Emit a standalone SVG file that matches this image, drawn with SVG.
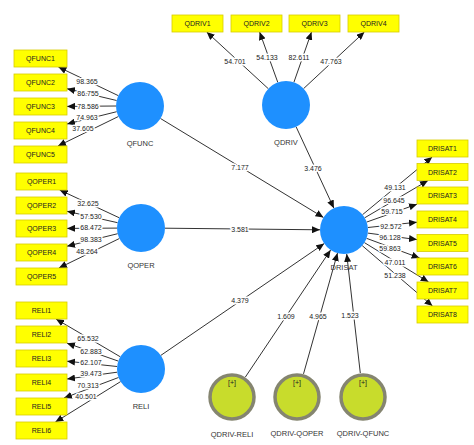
<svg xmlns="http://www.w3.org/2000/svg" width="474" height="445" viewBox="0 0 474 445">
<defs>
<marker id="ah" markerUnits="userSpaceOnUse" markerWidth="8" markerHeight="7" refX="8" refY="3.5" orient="auto">
<path d="M0,0 L8,3.5 L0,7 z" fill="#111"/>
</marker>
<style>
.ln{stroke:#333;stroke-width:1;fill:none;marker-end:url(#ah)}
.box{fill:#ffff00;stroke:#d8cc00;stroke-width:0.8}
.bt{font-family:"Liberation Sans",Arial,sans-serif;font-size:7px;fill:#222;text-anchor:middle}
.lat{fill:#1e90ff}
.mod{fill:#c8dc2c;stroke:#858570;stroke-width:3.5}
.lt{font-family:"Liberation Sans",Arial,sans-serif;font-size:7.5px;fill:#333;text-anchor:middle}
.val{font-family:"Liberation Sans",Arial,sans-serif;font-size:7px;fill:#222;text-anchor:middle;stroke:#fff;stroke-width:3;paint-order:stroke;stroke-linejoin:round}
</style>
</defs>
<rect width="474" height="445" fill="#fff"/>
<g id="connectors">
<line class="ln" x1="160.5" y1="118.5" x2="323.5" y2="217.5"/>
<line class="ln" x1="165" y1="228.2" x2="320" y2="229.8"/>
<line class="ln" x1="296.1" y1="126.8" x2="333.9" y2="208.2"/>
<line class="ln" x1="160.8" y1="355.4" x2="324.2" y2="243.6"/>
<line class="ln" x1="245.4" y1="377" x2="330.6" y2="250"/>
<line class="ln" x1="303.5" y1="373.9" x2="337.5" y2="253.1"/>
<line class="ln" x1="360.3" y1="373.1" x2="346.7" y2="253.9"/>
<line class="ln" x1="118.4" y1="95.7" x2="58.4" y2="67"/>
<line class="ln" x1="116.6" y1="100.5" x2="67" y2="88.7"/>
<line class="ln" x1="116" y1="106" x2="67" y2="106.4"/>
<line class="ln" x1="116.7" y1="111.7" x2="67" y2="124"/>
<line class="ln" x1="118.4" y1="116.5" x2="58" y2="146"/>
<line class="ln" x1="119.3" y1="217.8" x2="59.7" y2="190"/>
<line class="ln" x1="117.6" y1="222.7" x2="67" y2="211.3"/>
<line class="ln" x1="117" y1="228.1" x2="67" y2="228.4"/>
<line class="ln" x1="117.7" y1="233.7" x2="67" y2="246.2"/>
<line class="ln" x1="119.4" y1="238.5" x2="58.9" y2="268"/>
<line class="ln" x1="120.3" y1="356.8" x2="56" y2="319"/>
<line class="ln" x1="118.3" y1="361.1" x2="67" y2="343.2"/>
<line class="ln" x1="117.1" y1="366.5" x2="67" y2="361.2"/>
<line class="ln" x1="117.2" y1="372.2" x2="67" y2="379"/>
<line class="ln" x1="118.5" y1="377.5" x2="64" y2="398"/>
<line class="ln" x1="120.6" y1="381.6" x2="55.4" y2="422"/>
<line class="ln" x1="268.3" y1="88.7" x2="206.7" y2="32"/>
<line class="ln" x1="277.8" y1="82.4" x2="259.6" y2="32"/>
<line class="ln" x1="293.9" y1="82.3" x2="311.5" y2="32"/>
<line class="ln" x1="303.6" y1="88.6" x2="364.4" y2="32"/>
<line class="ln" x1="362.5" y1="214.7" x2="432.2" y2="157"/>
<line class="ln" x1="364.7" y1="217.8" x2="428" y2="180.5"/>
<line class="ln" x1="366.6" y1="222.1" x2="417" y2="204.2"/>
<line class="ln" x1="367.9" y1="227.5" x2="417" y2="222.2"/>
<line class="ln" x1="367.8" y1="233.1" x2="417" y2="239.6"/>
<line class="ln" x1="366.5" y1="238.3" x2="419.6" y2="258"/>
<line class="ln" x1="364.4" y1="242.6" x2="428.6" y2="282"/>
<line class="ln" x1="362.2" y1="245.6" x2="432.5" y2="306"/>
<text class="val" x="240" y="170">7.177</text>
<text class="val" x="240" y="232">3.581</text>
<text class="val" x="313" y="171">3.476</text>
<text class="val" x="240" y="303">4.379</text>
<text class="val" x="286" y="319">1.609</text>
<text class="val" x="318" y="319">4.965</text>
<text class="val" x="350" y="318">1.523</text>
<text class="val" x="87" y="84">98.365</text>
<text class="val" x="88" y="96">86.755</text>
<text class="val" x="88" y="109">78.586</text>
<text class="val" x="87" y="120">74.963</text>
<text class="val" x="83" y="131">37.605</text>
<text class="val" x="88" y="206">32.625</text>
<text class="val" x="91" y="219">57.530</text>
<text class="val" x="91" y="230">68.472</text>
<text class="val" x="91" y="242">98.383</text>
<text class="val" x="87" y="254">48.264</text>
<text class="val" x="88" y="341">65.532</text>
<text class="val" x="91" y="354">62.883</text>
<text class="val" x="91" y="365">62.107</text>
<text class="val" x="91" y="376">39.473</text>
<text class="val" x="88" y="388">70.313</text>
<text class="val" x="86" y="399">40.501</text>
<text class="val" x="235" y="64">54.701</text>
<text class="val" x="267" y="60">54.133</text>
<text class="val" x="299" y="60">82.611</text>
<text class="val" x="331" y="64">47.763</text>
<text class="val" x="395" y="190">49.131</text>
<text class="val" x="394" y="203">96.645</text>
<text class="val" x="392" y="214">59.715</text>
<text class="val" x="391" y="229">92.572</text>
<text class="val" x="390" y="240">96.128</text>
<text class="val" x="390" y="251">59.863</text>
<text class="val" x="395" y="265">47.011</text>
<text class="val" x="395" y="278">51.238</text>
</g>
<g id="QFUNC"><circle class="lat" cx="140" cy="106" r="24"/><text class="lt" x="140" y="146">QFUNC</text></g>
<g id="QOPER"><circle class="lat" cx="141" cy="228" r="24"/><text class="lt" x="141" y="268">QOPER</text></g>
<g id="RELI"><circle class="lat" cx="141" cy="369" r="24"/><text class="lt" x="141" y="409">RELI</text></g>
<g id="QDRIV"><circle class="lat" cx="286" cy="105" r="24"/><text class="lt" x="286" y="145">QDRIV</text></g>
<g id="DRISAT"><circle class="lat" cx="344" cy="230" r="24"/><text class="lt" x="344" y="270">DRISAT</text></g>
<g id="QDRIV-RELI"><circle class="mod" cx="232" cy="397" r="22"/><text class="bt" x="232" y="385" font-size="6">[+]</text><text class="lt" x="232" y="437">QDRIV-RELI</text></g>
<g id="QDRIV-QOPER"><circle class="mod" cx="297" cy="397" r="22"/><text class="bt" x="297" y="385" font-size="6">[+]</text><text class="lt" x="297" y="436">QDRIV-QOPER</text></g>
<g id="QDRIV-QFUNC"><circle class="mod" cx="363" cy="397" r="22"/><text class="bt" x="363" y="385" font-size="6">[+]</text><text class="lt" x="363" y="436">QDRIV-QFUNC</text></g>
<g id="QFUNC1"><rect class="box" x="14" y="50" width="53" height="17"/><text class="bt" x="40.5" y="61">QFUNC1</text></g>
<g id="QFUNC2"><rect class="box" x="14" y="74" width="53" height="17"/><text class="bt" x="40.5" y="85">QFUNC2</text></g>
<g id="QFUNC3"><rect class="box" x="14" y="98" width="53" height="17"/><text class="bt" x="40.5" y="109">QFUNC3</text></g>
<g id="QFUNC4"><rect class="box" x="14" y="122" width="53" height="17"/><text class="bt" x="40.5" y="133">QFUNC4</text></g>
<g id="QFUNC5"><rect class="box" x="14" y="146" width="53" height="17"/><text class="bt" x="40.5" y="157">QFUNC5</text></g>
<g id="QOPER1"><rect class="box" x="16" y="173" width="51" height="17"/><text class="bt" x="41.5" y="184">QOPER1</text></g>
<g id="QOPER2"><rect class="box" x="16" y="197" width="51" height="17"/><text class="bt" x="41.5" y="208">QOPER2</text></g>
<g id="QOPER3"><rect class="box" x="16" y="220" width="51" height="17"/><text class="bt" x="41.5" y="231">QOPER3</text></g>
<g id="QOPER4"><rect class="box" x="16" y="244" width="51" height="17"/><text class="bt" x="41.5" y="255">QOPER4</text></g>
<g id="QOPER5"><rect class="box" x="16" y="268" width="51" height="17"/><text class="bt" x="41.5" y="279">QOPER5</text></g>
<g id="RELI1"><rect class="box" x="16" y="302" width="51" height="17"/><text class="bt" x="41.5" y="313">RELI1</text></g>
<g id="RELI2"><rect class="box" x="16" y="326" width="51" height="17"/><text class="bt" x="41.5" y="337">RELI2</text></g>
<g id="RELI3"><rect class="box" x="16" y="350" width="51" height="17"/><text class="bt" x="41.5" y="361">RELI3</text></g>
<g id="RELI4"><rect class="box" x="16" y="374" width="51" height="17"/><text class="bt" x="41.5" y="385">RELI4</text></g>
<g id="RELI5"><rect class="box" x="16" y="398" width="51" height="17"/><text class="bt" x="41.5" y="409">RELI5</text></g>
<g id="RELI6"><rect class="box" x="16" y="422" width="51" height="17"/><text class="bt" x="41.5" y="433">RELI6</text></g>
<g id="QDRIV1"><rect class="box" x="172" y="15" width="51" height="17"/><text class="bt" x="197.5" y="26">QDRIV1</text></g>
<g id="QDRIV2"><rect class="box" x="231" y="15" width="51" height="17"/><text class="bt" x="256.5" y="26">QDRIV2</text></g>
<g id="QDRIV3"><rect class="box" x="289" y="15" width="51" height="17"/><text class="bt" x="314.5" y="26">QDRIV3</text></g>
<g id="QDRIV4"><rect class="box" x="348" y="15" width="51" height="17"/><text class="bt" x="373.5" y="26">QDRIV4</text></g>
<g id="DRISAT1"><rect class="box" x="417" y="140" width="51" height="17"/><text class="bt" x="442.5" y="151">DRISAT1</text></g>
<g id="DRISAT2"><rect class="box" x="417" y="163.5" width="51" height="17"/><text class="bt" x="442.5" y="174.5">DRISAT2</text></g>
<g id="DRISAT3"><rect class="box" x="417" y="187" width="51" height="17"/><text class="bt" x="442.5" y="198">DRISAT3</text></g>
<g id="DRISAT4"><rect class="box" x="417" y="211" width="51" height="17"/><text class="bt" x="442.5" y="222">DRISAT4</text></g>
<g id="DRISAT5"><rect class="box" x="417" y="234.5" width="51" height="17"/><text class="bt" x="442.5" y="245.5">DRISAT5</text></g>
<g id="DRISAT6"><rect class="box" x="417" y="258" width="51" height="17"/><text class="bt" x="442.5" y="269">DRISAT6</text></g>
<g id="DRISAT7"><rect class="box" x="417" y="282" width="51" height="17"/><text class="bt" x="442.5" y="293">DRISAT7</text></g>
<g id="DRISAT8"><rect class="box" x="417" y="306" width="51" height="17"/><text class="bt" x="442.5" y="317">DRISAT8</text></g>
</svg>
